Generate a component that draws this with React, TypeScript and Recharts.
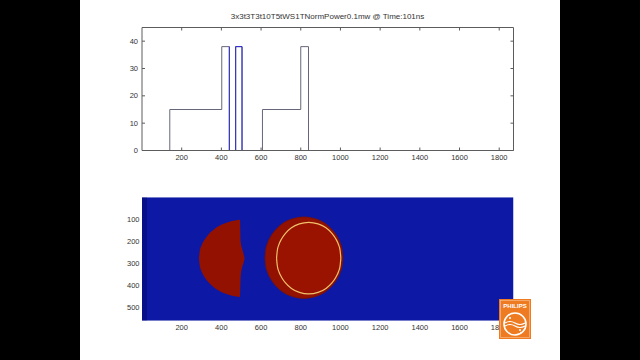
import React from 'react';
import { ComposedChart, Line, Area, XAxis, YAxis } from 'recharts';

const TITLE = '3x3t3T3t10T5tWS1TNormPower0.1mw @ Time:101ns';
const xTicks = [200, 400, 600, 800, 1000, 1200, 1400, 1600, 1800];
const powerTicks = [0, 10, 20, 30, 40];
const rowTicks = [100, 200, 300, 400, 500];

// top panel: stepped power profile
const powerX = [140, 140, 402, 440, 472, 504, 607, 800, 839];
const powerY = [0, 15, 38, 0, 38, 0, 15, 38, 0];
const dipX = [440, 440, 472, 504, 607];
const dipY = [38, 0, 38, 0, 0];

// bottom panel: image field (rows x columns)
const fieldX = [0, 1872];
const fieldTop = [0, 0];
const fieldBottom = [562, 562];
const edgeX = [0, 25];

const crescentX = [287, 291, 300, 315, 335, 365, 405, 445, 475, 494, 497, 505, 512, 517];
const crescentTop = [278, 245, 219, 193, 169, 144, 123, 110, 104, 102, 200, 235, 258, 278];
const crescentBottom = [278, 311, 337, 363, 387, 412, 433, 446, 452, 454, 365, 318, 298, 278];

const discX = [620, 624, 633, 648, 668, 698, 738, 778, 816, 854, 894, 934, 964, 984, 999, 1008, 1012];
const discTop = [275, 238, 209, 180, 154, 127, 105, 94, 90, 94, 105, 127, 154, 180, 209, 238, 275];
const discBottom = [275, 312, 341, 370, 396, 423, 445, 456, 460, 456, 445, 423, 396, 370, 341, 312, 275];

const ringX = [678, 682, 690, 703, 723, 753, 793, 840, 887, 927, 957, 977, 990, 998, 1002];
const ringTop = [277, 241, 215, 190, 164, 139, 121, 114, 121, 139, 164, 190, 215, 241, 277];
const ringBottom = [277, 313, 339, 364, 390, 415, 433, 440, 433, 415, 390, 364, 339, 313, 277];

const toSteps = (xs: number[], ys: number[]) => xs.map((x, i) => ({ x, y: ys[i] }));
const toRange = (xs: number[], lo: number[], hi: number[]) => xs.map((x, i) => ({ x, r: [lo[i], hi[i]] }));

const powerData = toSteps(powerX, powerY);
const dipData = toSteps(dipX, dipY);
const fieldData = toRange(fieldX, fieldTop, fieldBottom);
const edgeData = toRange(edgeX, fieldTop, fieldBottom);
const crescentData = toRange(crescentX, crescentTop, crescentBottom);
const discData = toRange(discX, discTop, discBottom);
const ringData = toRange(ringX, ringTop, ringBottom);

const FONT = '"Liberation Sans", Arial, sans-serif';
const AXIS = '#5c5c5c';
const TEXT = '#333333';
const BLUE = '#0d19a5';
const RED = '#931100';
const tickStyle = { fill: TEXT, fontSize: 7.5, fontFamily: FONT };
const blank = () => '';

function PhilipsLogo() {
  return (
    <svg width={32} height={40} style={{ position: 'absolute', left: 419, top: 299 }}>
      <rect x={0} y={0} width={32} height={40} fill="#ee7b22" />
      <rect x={1.5} y={1.5} width={29} height={37} fill="none" stroke="#f7b27a" strokeWidth={0.8} />
      <text x={16} y={9} textAnchor="middle" fill="#ffffff" fontSize={6} fontWeight="bold" fontFamily={FONT}>PHILIPS</text>
      <circle cx={16} cy={25} r={11} fill="none" stroke="#ffffff" strokeWidth={1.6} />
      <path d="M6 24 Q11 21 16 24 T26 24" fill="none" stroke="#ffffff" strokeWidth={1.2} />
      <path d="M6 27 Q11 24 16 27 T26 27" fill="none" stroke="#ffffff" strokeWidth={1.2} />
      <circle cx={11} cy={19} r={1} fill="#ffffff" />
      <circle cx={21} cy={31} r={1} fill="#ffffff" />
      <circle cx={22} cy={33.5} r={0.8} fill="#ffffff" />
    </svg>
  );
}

export default function App() {
  return (
    <div style={{ position: 'absolute', left: 0, top: 0, width: 640, height: 360, background: '#000', overflow: 'hidden' }}>
      <div style={{ position: 'absolute', left: 80, top: 0, width: 480, height: 360, background: '#fff' }}>
        <div
          style={{
            position: 'absolute', left: 0, width: 495, top: 12, textAlign: 'center',
            fontFamily: FONT, fontSize: 8, lineHeight: '10px', color: TEXT, whiteSpace: 'nowrap',
          }}
        >
          {TITLE}
        </div>
        <div style={{ position: 'absolute', left: 0, top: 0 }}>
          <ComposedChart width={480} height={175} margin={{ top: 22.5, right: 36.5, bottom: 4.5, left: 22 }}>
            <XAxis xAxisId="b" type="number" dataKey="x" domain={[0, 1872]} ticks={xTicks} allowDataOverflow interval={0}
              orientation="bottom" height={20} tickSize={-3} tickMargin={7} stroke={AXIS} tick={tickStyle} />
            <XAxis xAxisId="t" type="number" dataKey="x" domain={[0, 1872]} ticks={xTicks} allowDataOverflow interval={0}
              orientation="top" height={5} tickSize={-3} tickFormatter={blank} stroke={AXIS} />
            <YAxis yAxisId="l" type="number" domain={[0, 45]} ticks={powerTicks} allowDataOverflow interval={0}
              width={40} tickSize={-3} tickMargin={7} stroke={AXIS} tick={tickStyle} />
            <YAxis yAxisId="r" orientation="right" type="number" domain={[0, 45]} ticks={powerTicks} allowDataOverflow interval={0}
              width={10} tickSize={-3} tickFormatter={blank} stroke={AXIS} />
            <Line xAxisId="b" yAxisId="l" data={powerData} dataKey="y" type="stepAfter" stroke="#66667a" strokeWidth={1}
              dot={false} activeDot={false} isAnimationActive={false} />
            <Line xAxisId="b" yAxisId="l" data={dipData} dataKey="y" type="stepAfter" stroke="#2b2bd0" strokeWidth={1}
              dot={false} activeDot={false} isAnimationActive={false} />
          </ComposedChart>
        </div>
        <div style={{ position: 'absolute', left: 0, top: 180 }}>
          <ComposedChart width={480} height={170} margin={{ top: 17.3, right: 46.5, bottom: 9.3, left: 22 }}>
            <XAxis type="number" dataKey="x" domain={[0, 1872]} ticks={xTicks} allowDataOverflow interval={0}
              height={20} tickSize={0} tickLine={false} axisLine={false} tickMargin={4} tick={tickStyle} />
            <YAxis type="number" domain={[0, 562]} reversed ticks={rowTicks} allowDataOverflow interval={0}
              width={40} tickSize={0} tickLine={false} axisLine={false} tickMargin={2.5} tick={tickStyle} />
            <Area data={fieldData} dataKey="r" type="linear" fill={BLUE} fillOpacity={1} stroke="none" isAnimationActive={false} />
            <Area data={edgeData} dataKey="r" type="linear" fill="#000050" fillOpacity={0.35} stroke="none" isAnimationActive={false} />
            <Area data={crescentData} dataKey="r" type="monotone" fill={RED} fillOpacity={1} stroke="none" isAnimationActive={false} />
            <Area data={discData} dataKey="r" type="monotone" fill={RED} fillOpacity={1} stroke="#7a1208" strokeWidth={1} isAnimationActive={false} />
            <Area data={ringData} dataKey="r" type="monotone" fill="#9a1200" fillOpacity={1} stroke="#f0c06a" strokeWidth={1.2} isAnimationActive={false} />
          </ComposedChart>
        </div>
        <PhilipsLogo />
      </div>
    </div>
  );
}
